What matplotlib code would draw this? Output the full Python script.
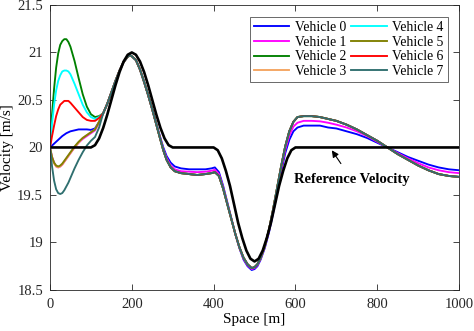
import matplotlib
matplotlib.use("Agg")
import matplotlib.pyplot as plt

plt.rcParams['font.family'] = ['Liberation Serif', 'DejaVu Serif']

# reference velocity profile
x_ref = [0, 100, 110, 120, 130, 140, 150, 160, 170, 180, 190, 200, 210, 220, 230, 240,
         250, 260, 270, 280, 290, 300, 400, 410, 420, 430, 440, 450, 460, 470, 480, 490,
         500, 510, 520, 530, 540, 550, 560, 570, 580, 590, 600, 1000]
v_ref = [20.0, 20.0, 20.024, 20.095, 20.206, 20.345, 20.5, 20.655, 20.794, 20.905, 20.976,
         21.0, 20.976, 20.905, 20.794, 20.655, 20.5, 20.345, 20.206, 20.095, 20.024, 20.0,
         20.0, 19.971, 19.885, 19.753, 19.595, 19.4, 19.205, 19.047, 18.915, 18.829,
         18.8, 18.829, 18.915, 19.047, 19.205, 19.4, 19.595, 19.753, 19.885, 19.971, 20.0, 20.0]

# first 120 m, every vehicle differs
x_start = [0, 5, 10, 15, 20, 25, 30, 35, 40, 45, 50, 60, 70, 80, 90, 100, 110, 120]
v0_start = [20.0, 20.02, 20.04, 20.06, 20.08, 20.10, 20.12, 20.135, 20.15, 20.16, 20.17, 20.18, 20.19, 20.19, 20.19, 20.185, 20.2, 20.27]
v1_start = [20.0, 19.9, 19.84, 19.8, 19.79, 19.8, 19.82, 19.85, 19.88, 19.91, 19.94, 20.0, 20.05, 20.09, 20.12, 20.15, 20.18, 20.26]
v2_start = [20.0, 20.35, 20.62, 20.84, 20.99, 21.08, 21.12, 21.14, 21.14, 21.11, 21.06, 20.91, 20.73, 20.56, 20.43, 20.35, 20.32, 20.33]
v3_start = [20.0, 19.89, 19.83, 19.8, 19.79, 19.8, 19.82, 19.85, 19.88, 19.91, 19.94, 20.0, 20.05, 20.1, 20.13, 20.16, 20.19, 20.27]
v4_start = [20.0, 20.25, 20.45, 20.6, 20.7, 20.76, 20.8, 20.81, 20.81, 20.8, 20.77, 20.67, 20.56, 20.45, 20.37, 20.32, 20.3, 20.32]
v5_start = [20.0, 19.9, 19.84, 19.81, 19.8, 19.81, 19.83, 19.86, 19.89, 19.92, 19.95, 20.01, 20.06, 20.1, 20.13, 20.16, 20.19, 20.27]
v6_start = [20.0, 20.12, 20.23, 20.33, 20.4, 20.45, 20.47, 20.49, 20.49, 20.49, 20.47, 20.42, 20.37, 20.32, 20.29, 20.28, 20.28, 20.31]
v7_start = [20.0, 19.8, 19.65, 19.56, 19.52, 19.51, 19.52, 19.55, 19.59, 19.63, 19.68, 19.78, 19.87, 19.95, 20.02, 20.07, 20.11, 20.21]

# after 130 m the platoon moves almost together
x_tail = [130, 140, 150, 160, 170, 180, 190, 196, 200, 210, 220, 230, 240, 250, 260, 270,
          277, 285, 295, 305, 320, 340, 360, 380, 395, 403, 413, 423, 433, 443, 453, 463,
          473, 483, 493, 500, 507, 515, 525, 535, 545, 555, 565, 575, 585, 595, 605, 620,
          640, 660, 680, 700, 725, 750, 775, 800, 825, 850, 875, 900, 925, 950, 975, 1000]
v0_tail = [20.36, 20.46, 20.58, 20.7, 20.81, 20.9, 20.955, 20.97, 20.96, 20.92, 20.82, 20.69, 20.55, 20.4, 20.25, 20.1,
           20.0, 19.91, 19.84, 19.8, 19.78, 19.77, 19.77, 19.77, 19.78, 19.79, 19.74, 19.6, 19.43, 19.26, 19.09, 18.94,
           18.82, 18.75, 18.71, 18.72, 18.75, 18.82, 18.94, 19.1, 19.3, 19.52, 19.74, 19.94, 20.08, 20.17, 20.21, 20.23,
           20.23, 20.23, 20.21, 20.2, 20.17, 20.14, 20.1, 20.05, 20.0, 19.95, 19.9, 19.86, 19.82, 19.79, 19.77, 19.76]
v1_tail = [20.36, 20.46, 20.58, 20.7, 20.81, 20.9, 20.955, 20.97, 20.96, 20.92, 20.82, 20.69, 20.55, 20.4, 20.24, 20.09,
           19.98, 19.89, 19.81, 19.77, 19.75, 19.745, 19.74, 19.745, 19.755, 19.765, 19.72, 19.585, 19.42, 19.255, 19.09, 18.945,
           18.83, 18.76, 18.72, 18.73, 18.76, 18.83, 18.95, 19.115, 19.32, 19.545, 19.77, 19.975, 20.125, 20.22, 20.26, 20.28,
           20.28, 20.275, 20.26, 20.24, 20.21, 20.17, 20.12, 20.06, 20.0, 19.94, 19.885, 19.835, 19.79, 19.76, 19.74, 19.73]
vrest_tail = [20.36, 20.46, 20.58, 20.7, 20.81, 20.9, 20.955, 20.97, 20.96, 20.92, 20.82, 20.69, 20.55, 20.4, 20.24, 20.08,
              19.97, 19.87, 19.79, 19.75, 19.73, 19.72, 19.71, 19.72, 19.73, 19.74, 19.7, 19.57, 19.41, 19.25, 19.09, 18.95,
              18.84, 18.77, 18.73, 18.74, 18.77, 18.84, 18.96, 19.13, 19.34, 19.57, 19.8, 20.01, 20.17, 20.27, 20.32, 20.33,
              20.33, 20.32, 20.3, 20.28, 20.24, 20.19, 20.13, 20.07, 20.0, 19.93, 19.87, 19.81, 19.76, 19.72, 19.7, 19.69]

labels = ['Vehicle 0', 'Vehicle 1', 'Vehicle 2', 'Vehicle 3',
          'Vehicle 4', 'Vehicle 5', 'Vehicle 6', 'Vehicle 7']
colors = ['#0000ff', '#ff00ff', '#008000', '#f4a460',
          '#00ffff', '#808000', '#ff0000', '#2f6f6f']
starts = [v0_start, v1_start, v2_start, v3_start, v4_start, v5_start, v6_start, v7_start]
tails = [v0_tail, v1_tail, vrest_tail, vrest_tail, vrest_tail, vrest_tail, vrest_tail, vrest_tail]

fig = plt.figure(figsize=(4.74, 3.31), dpi=100)
ax = fig.add_axes([0.1055, 0.124, 0.863, 0.861])

for lab, col, s, t in zip(labels, colors, starts, tails):
    ax.plot(x_start + x_tail, s + t, color=col, lw=1.35, label=lab)

ax.plot(x_ref, v_ref, color='black', lw=1.9)

ax.annotate('Reference Velocity', xy=(689, 19.97), xytext=(738, 19.66),
            ha='center', va='center', fontsize=10.5, fontweight='bold',
            arrowprops=dict(arrowstyle='-|>', color='black', lw=0.8, shrinkA=6, shrinkB=0,
                            mutation_scale=10))

ax.set_xlim(0, 1000)
ax.set_ylim(18.5, 21.5)
ax.set_xticks([0, 200, 400, 600, 800, 1000])
ax.set_yticks([18.5, 19, 19.5, 20, 20.5, 21, 21.5])
ax.set_yticklabels(['18.5', '19', '19.5', '20', '20.5', '21', '21.5'])
ax.tick_params(direction='in', top=True, right=True, length=4, width=0.6,
               labelsize=10.5, colors='#262626')
ax.tick_params(axis='x', pad=6)
ax.tick_params(axis='y', pad=5)
for sp in ax.spines.values():
    sp.set_color('#262626')
    sp.set_linewidth(0.6)

ax.set_xlabel('Space [m]', fontsize=11, labelpad=1)
ax.set_ylabel('Velocity [m/s]', fontsize=11, labelpad=2)

leg = ax.legend(ncol=2, loc='upper right', bbox_to_anchor=(0.972, 0.958), fontsize=9.8,
                frameon=True, fancybox=False, borderpad=0.3, labelspacing=0.12,
                handlelength=2.6, handletextpad=0.4, columnspacing=0.4, borderaxespad=0)
leg.get_frame().set_edgecolor('#262626')
leg.get_frame().set_linewidth(0.6)

fig.savefig('out.png', dpi=100)
